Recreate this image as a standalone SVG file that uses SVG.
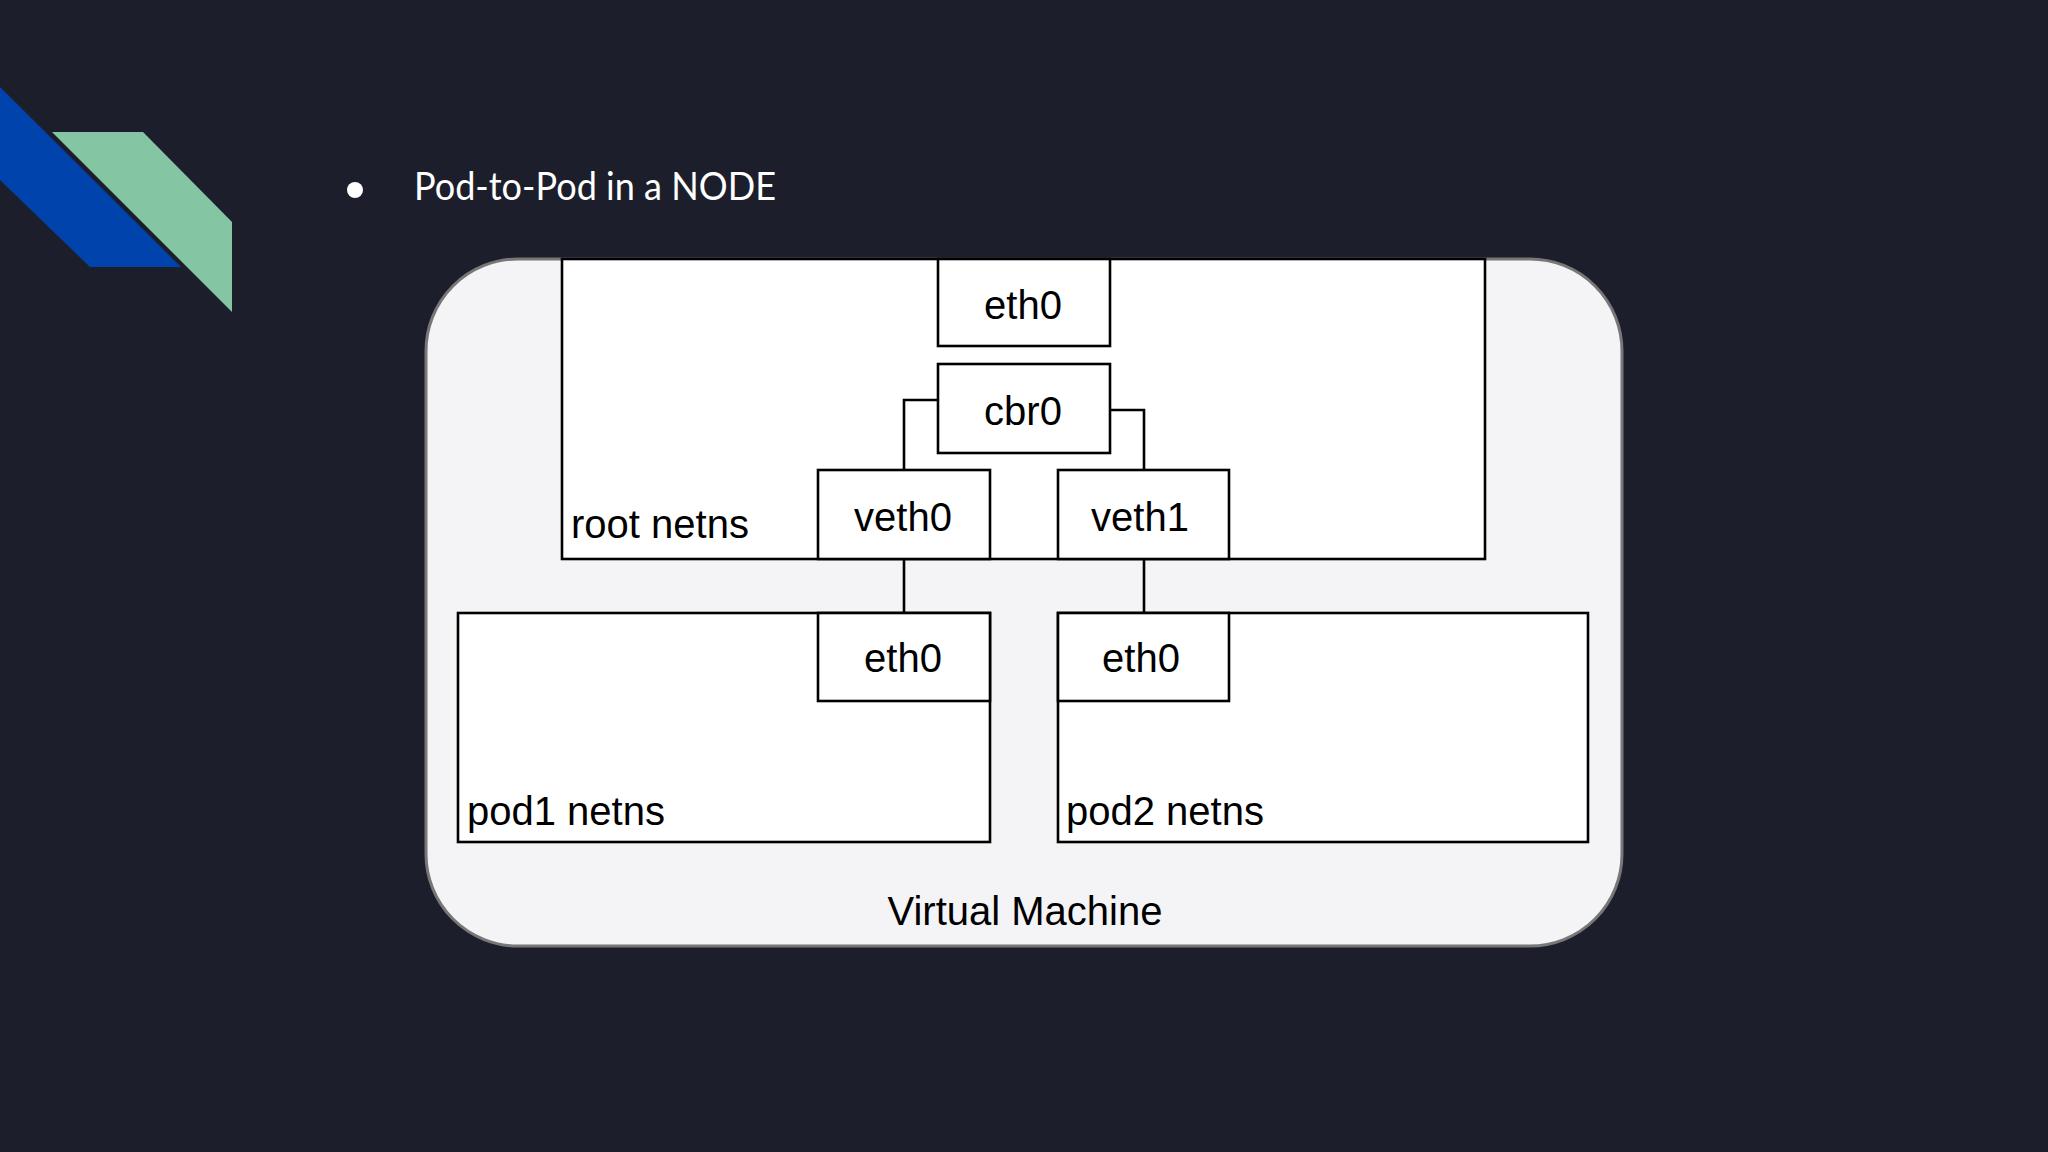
<svg xmlns="http://www.w3.org/2000/svg" width="2048" height="1152" viewBox="0 0 2048 1152">
<style>
.b{fill:#fff;stroke:#000;stroke-width:2.6}
.t{font-family:"Liberation Sans",Arial,sans-serif;font-size:40px;fill:#000}
.c{text-anchor:middle}
.l{fill:none;stroke:#000;stroke-width:2.6}
</style>
<rect width="2048" height="1152" fill="#1c1f2b"/>
<polygon points="0,87 181,267 90,267 0,180" fill="#0043ac"/>
<polygon points="52,132 143,132 232,222 232,312" fill="#84c5a4"/>
<circle cx="355" cy="190" r="8" fill="#fff"/>
<text x="414" y="200" font-family="Lato,'Open Sans',sans-serif" font-size="38" textLength="362" lengthAdjust="spacingAndGlyphs" fill="#fff">Pod-to-Pod in a NODE</text>
<g id="vm"><rect x="426" y="259" width="1196" height="687" rx="92" fill="#f4f4f6" stroke="#777" stroke-width="3"/>
<text class="t c" x="1025" y="925">Virtual Machine</text></g>
<g id="root"><rect class="b" x="562" y="259" width="923" height="300"/><text class="t" x="571" y="538">root netns</text></g>
<g id="pod1"><rect class="b" x="458" y="613" width="532" height="229"/><text class="t" x="467" y="825">pod1 netns</text></g>
<g id="pod2"><rect class="b" x="1058" y="613" width="530" height="229"/><text class="t" x="1066" y="825">pod2 netns</text></g>
<g id="eth0"><rect class="b" x="938" y="259" width="172" height="87"/><text class="t c" x="1023" y="319">eth0</text></g>
<g id="cbr0"><rect class="b" x="938" y="364" width="172" height="89"/><text class="t c" x="1023" y="425">cbr0</text></g>
<g id="veth0"><rect class="b" x="818" y="470" width="172" height="89"/><text class="t c" x="903" y="531">veth0</text></g>
<g id="veth1"><rect class="b" x="1058" y="470" width="171" height="89"/><text class="t c" x="1140" y="531">veth1</text></g>
<g id="p1eth0"><rect class="b" x="818" y="613" width="172" height="88"/><text class="t c" x="903" y="672">eth0</text></g>
<g id="p2eth0"><rect class="b" x="1058" y="613" width="171" height="88"/><text class="t c" x="1141" y="672">eth0</text></g>
<g id="connectors">
<polyline class="l" points="938,400 904,400 904,470"/>
<polyline class="l" points="1110,410 1144,410 1144,470"/>
<line class="l" x1="904" y1="559" x2="904" y2="613"/>
<line class="l" x1="1144" y1="559" x2="1144" y2="613"/>
</g>
</svg>
